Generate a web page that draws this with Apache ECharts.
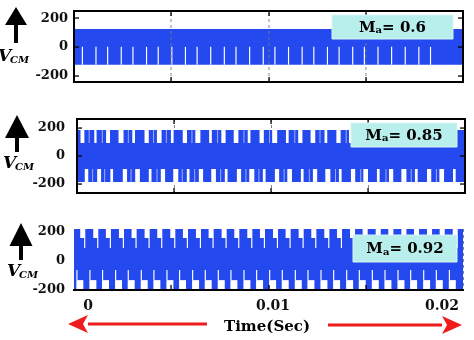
<!DOCTYPE html>
<html>
<head>
<meta charset="utf-8">
<script src="https://cdn.jsdelivr.net/npm/echarts@6/dist/echarts.min.js"></script>
<style>
  html, body { margin: 0; padding: 0; background: #fff; }
  #chart { width: 474px; height: 340px; }
</style>
</head>
<body>
<div id="chart"></div>
<script>
// ---- data ---------------------------------------------------------------
// time axis (s) and labelled ticks
const timeRange = [0, 0.02];
const timeGrid = 0.005;
const timeGridLines = [0.005, 0.01, 0.015];
const timeTicks = [0, 0.01, 0.02];
const timeLabels = ['0', '0.01', '0.02'];
const voltTicks = [-200, 0, 200];
const modIndex = ['0.6', '0.85', '0.92'];

// Ma = 0.6 : switching band and the short zero-level gaps
const range1 = [-245, 250];
const band1 = [-125, 125];
const gapLevels1 = [-125, 0];
const gapWidth1 = 0.00006;
const gaps1 = [0.0004, 0.0011, 0.0017, 0.0024, 0.0030, 0.0037, 0.0043, 0.0050,
  0.0057, 0.0063, 0.0070, 0.0077, 0.0083, 0.0090, 0.0097, 0.0103, 0.0110,
  0.0117, 0.0123, 0.0130, 0.0136, 0.0143, 0.0149, 0.0156, 0.0163, 0.0170,
  0.0177, 0.0183];

// Ma = 0.85 : band with notches down to the inner level
const range2 = [-265, 265];
const band2 = [-186, 186];
const topLevels2 = [93, 186];
const botLevels2 = [-186, -93];
const topNotches2 = [[0.00018,0.00038],[0.00089,0.00101],[0.00150,0.00170],[0.00214,0.00240],
  [0.00285,0.00299],[0.00348,0.00370],[0.00412,0.00436],[0.00484,0.00498],[0.00545,0.00567],
  [0.00610,0.00636],[0.00681,0.00695],[0.00744,0.00766],[0.00808,0.00832],[0.00880,0.00894],
  [0.00941,0.00963],[0.01006,0.01032],[0.01077,0.01091],[0.01140,0.01162],[0.01204,0.01228],
  [0.01276,0.01290],[0.01337,0.01359],[0.01402,0.01428],[0.01473,0.01487],[0.01536,0.01558],
  [0.01600,0.01624],[0.01672,0.01686],[0.01733,0.01755],[0.01798,0.01824],[0.01869,0.01883],
  [0.01932,0.01954]];
const botNotches2 = [[0.00040,0.00058],[0.00104,0.00124],[0.00172,0.00186],[0.00236,0.00258],
  [0.00300,0.00324],[0.00370,0.00384],[0.00432,0.00454],[0.00496,0.00522],[0.00566,0.00580],
  [0.00628,0.00650],[0.00692,0.00716],[0.00762,0.00776],[0.00824,0.00846],[0.00888,0.00914],
  [0.00958,0.00972],[0.01020,0.01042],[0.01084,0.01108],[0.01154,0.01168],[0.01216,0.01238],
  [0.01280,0.01306],[0.01350,0.01364],[0.01412,0.01434],[0.01476,0.01500],[0.01546,0.01560],
  [0.01608,0.01630],[0.01672,0.01698],[0.01742,0.01756],[0.01804,0.01826],[0.01868,0.01892],
  [0.01938,0.01952]];
const sliverWidth2 = 0.00004;
const topSlivers2 = [0.00060, 0.00128, 0.00262, 0.00392, 0.00458, 0.00590, 0.00722, 0.00858,
  0.00990, 0.01120, 0.01250, 0.01385, 0.01520, 0.01650, 0.01782, 0.01912];
const botSlivers2 = [0.00078, 0.00140, 0.00276, 0.00410, 0.00540, 0.00604, 0.00738, 0.00868,
  0.00935, 0.01065, 0.01195, 0.01330, 0.01460, 0.01590, 0.01720, 0.01850];

// Ma = 0.92 : band fills the axes, stepped notches at both rails
const range3 = [-200, 220];
const band3 = [-196, 240];
const topCenters3 = [0.00045, 0.00112, 0.00177, 0.00244, 0.00309, 0.00376, 0.00441, 0.00508,
  0.00573, 0.00640, 0.00705, 0.00772, 0.00837, 0.00904, 0.00969, 0.01036, 0.01101, 0.01168,
  0.01233, 0.01300, 0.01365, 0.01432, 0.01497, 0.01564, 0.01629, 0.01696, 0.01761, 0.01828,
  0.01893, 0.01960];
const botCenters3 = [0.00030, 0.00097, 0.00162, 0.00229, 0.00294, 0.00361, 0.00426, 0.00493,
  0.00558, 0.00625, 0.00690, 0.00757, 0.00822, 0.00889, 0.00954, 0.01021, 0.01086, 0.01153,
  0.01218, 0.01285, 0.01350, 0.01417, 0.01482, 0.01549, 0.01614, 0.01681, 0.01746, 0.01813,
  0.01878, 0.01945];
const topHead3 = { half: 0.00013, levels: [158, 240] };
const topTail3 = { width: 0.00006, levels: [89, 158] };
const botBlock3 = { half: 0.00018, levels: [-196, -132] };
const botSpike3 = { width: 0.00006, levels: [-132, -63] };

// ---- build rectangles [t0, t1, v0, v1, kind] -----------------------------
const BAND = 0, NOTCH = 1, FAINT = 2;
const rectsFromPairs = (pairs, lv, kind) => pairs.map(p => [p[0], p[1], lv[0], lv[1], kind]);
const rectsFromStarts = (starts, w, lv, kind) => starts.map(t => [t, t + w, lv[0], lv[1], kind]);

const panel1 = [[timeRange[0], timeRange[1], band1[0], band1[1], BAND]]
  .concat(rectsFromStarts(gaps1, gapWidth1, gapLevels1, NOTCH));

const panel2 = [[timeRange[0], timeRange[1], band2[0], band2[1], BAND]]
  .concat(rectsFromPairs(topNotches2, topLevels2, NOTCH))
  .concat(rectsFromPairs(botNotches2, botLevels2, NOTCH))
  .concat(rectsFromStarts(topSlivers2, sliverWidth2, topLevels2, FAINT))
  .concat(rectsFromStarts(botSlivers2, sliverWidth2, botLevels2, FAINT));

const panel3 = [[timeRange[0], timeRange[1], band3[0], band3[1], BAND]]
  .concat(topCenters3.map(c => [c - topHead3.half, c + topHead3.half, topHead3.levels[0], topHead3.levels[1], NOTCH]))
  .concat(topCenters3.map(c => [c + topHead3.half - topTail3.width, c + topHead3.half, topTail3.levels[0], topTail3.levels[1], NOTCH]))
  .concat(botCenters3.map(c => [c - botBlock3.half, c + botBlock3.half, botBlock3.levels[0], botBlock3.levels[1], NOTCH]))
  .concat(botCenters3.map(c => [c - botBlock3.half, c - botBlock3.half + botSpike3.width, botSpike3.levels[0], botSpike3.levels[1], NOTCH]));

// ---- styling ------------------------------------------------------------
const BLUE = '#2349ef';
const FILLS = [BLUE, '#ffffff', 'rgba(255,255,255,0.55)'];
const SERIF = 'DejaVu Serif';
const INK = '#000';

function renderRect(params, api) {
  const a = api.coord([api.value(0), api.value(3)]);
  const b = api.coord([api.value(1), api.value(2)]);
  const cs = params.coordSys;
  const w = Math.max(b[0] - a[0], 1);
  const shape = echarts.graphic.clipRectByRect(
    { x: a[0], y: a[1], width: w, height: b[1] - a[1] },
    { x: cs.x, y: cs.y, width: cs.width, height: cs.height });
  if (!shape) return null;
  return { type: 'rect', shape: shape, style: { fill: FILLS[api.value(4)] } };
}

// axes box with inward ticks, drawn as solid bars.
// `full` false keeps only the bottom edge; `dashes` draws the time grid over the band.
function frameRenderer(full, dashes) {
  return function (params, api) {
    const cs = params.coordSys;
    const x0 = Math.round(cs.x), x1 = Math.round(cs.x + cs.width);
    const y0 = Math.round(cs.y), y1 = Math.round(cs.y + cs.height);
    const bar = (x, y, w, h, fill) => ({ type: 'rect',
      shape: { x: x, y: y, width: w, height: h }, style: { fill: fill || INK } });
    const kids = [];
    timeGridLines.forEach(t => {
      const px = Math.round(api.coord([t, 0])[0]);
      if (dashes) {
        for (let y = y0 + 2; y < y1 - 2; y += 6) {
          kids.push(bar(px - 0.5, y, 1, 3, 'rgba(120,120,120,0.9)'));
        }
      }
      kids.push(bar(px - 0.6, y1 - 5, 1.3, 4));
      if (full) kids.push(bar(px - 0.6, y0 + 1, 1.3, 4));
    });
    kids.push(bar(x0 - 1, y1 - 1, x1 - x0 + 2, 2));
    if (full) {
      kids.push(bar(x0 - 1, y0 - 1, x1 - x0 + 2, 2),
                bar(x0 - 1, y0 - 1, 2, y1 - y0 + 2),
                bar(x1 - 1, y0 - 1, 2, y1 - y0 + 2));
      voltTicks.forEach(v => {
        const py = Math.round(api.coord([0, v])[1]);
        kids.push(bar(x0 + 1, py - 0.6, 4, 1.3), bar(x1 - 5, py - 0.6, 4, 1.3));
      });
    }
    return { type: 'group', children: kids };
  };
}

const grids = [
  { left: 74, top: 11, width: 389, height: 71 },
  { left: 77, top: 119, width: 388, height: 74 },
  { left: 74, top: 229, width: 389, height: 61 }
];

const labelFont = (size) => ({ fontFamily: SERIF, fontWeight: 'bold', fontSize: size, color: '#111' });

// time axis: dashed vertical grid under the band and (last panel) the time labels
function timeAxis(gi, withLabels, withSplit) {
  return {
    type: 'value', gridIndex: gi, position: 'bottom',
    min: timeRange[0], max: timeRange[1], interval: timeGrid,
    axisLine: { show: false }, axisTick: { show: false },
    splitLine: { show: withSplit, lineStyle: { color: 'rgba(110,110,110,0.85)', type: [3, 3], width: 1 } },
    axisLabel: withLabels ? Object.assign(labelFont(14), {
      show: true, customValues: timeTicks, margin: 9,
      formatter: v => {
        const i = timeTicks.findIndex(t => Math.abs(t - v) < 1e-9);
        return i < 0 ? '' : '{t' + i + '|' + timeLabels[i] + '}';
      },
      rich: {
        t0: Object.assign(labelFont(14), { padding: [0, 0, 0, 28] }),
        t1: Object.assign(labelFont(14), { padding: [0, 0, 0, 9] }),
        t2: Object.assign(labelFont(14), { padding: [0, 42, 0, 0] })
      }
    }) : { show: false }
  };
}
function voltAxis(gi, range, margin) {
  return {
    type: 'value', gridIndex: gi, position: 'left', min: range[0], max: range[1],
    axisLine: { show: false }, axisTick: { show: false }, splitLine: { show: false },
    axisLabel: Object.assign(labelFont(13), { show: true, customValues: voltTicks, margin: margin })
  };
}

const ranges = [range1, range2, range3];
const margins = [6, 12, 9];
const xAxes = [0, 1, 2].map(i => timeAxis(i, i === 2, i > 0));
const yAxes = [0, 1, 2].map(i => voltAxis(i, ranges[i], margins[i]));

const series = [panel1, panel2, panel3].map((data, i) => ({
  type: 'custom', xAxisIndex: i, yAxisIndex: i,
  renderItem: renderRect, data: data, clip: true,
  encode: { x: [0, 1], y: [2, 3] }, animation: false, silent: true
})).concat([0, 1, 2].map(i => ({
  type: 'custom', xAxisIndex: i, yAxisIndex: i, z: 8,
  renderItem: frameRenderer(i < 2, i === 0), data: [[0.01, 0]], clip: false,
  encode: { x: 0, y: 1 }, animation: false, silent: true
})));

// ---- annotations ----------------------------------------------------------
function upArrow(cx, tipY, baseY, endY, hw) {
  const sw = 2;
  return { type: 'polygon', silent: true, z: 10,
    shape: { points: [[cx, tipY], [cx + hw, baseY], [cx + sw, baseY], [cx + sw, endY],
                      [cx - sw, endY], [cx - sw, baseY], [cx - hw, baseY]] },
    style: { fill: '#000' } };
}
function vcm(x, y) {
  return [
    { type: 'text', x: x, y: y, z: 10, silent: true,
      style: { text: 'V', fontFamily: SERIF, fontStyle: 'italic', fontWeight: 'bold', fontSize: 17,
               fill: '#000', verticalAlign: 'middle', align: 'left' } },
    { type: 'text', x: x + 12, y: y + 3, z: 10, silent: true,
      style: { text: 'CM', fontFamily: SERIF, fontStyle: 'italic', fontWeight: 'bold', fontSize: 10,
               fill: '#000', verticalAlign: 'middle', align: 'left' } }
  ];
}
function maBox(x, y, w, h, value) {
  return [
    { type: 'rect', z: 10, silent: true, shape: { x: x, y: y, width: w, height: h },
      style: { fill: '#b8eeec', stroke: '#d8f4f2', lineWidth: 1 } },
    { type: 'text', z: 11, silent: true, x: x + w / 2, y: y + h / 2,
      style: { text: '{m|M}{a|a}{m|= ' + value + '}', align: 'center', verticalAlign: 'middle',
        rich: {
          m: { fontFamily: SERIF, fontWeight: 'bold', fontSize: 15, fill: '#000', verticalAlign: 'bottom', lineHeight: 17 },
          a: { fontFamily: SERIF, fontWeight: 'bold', fontSize: 10, fill: '#000', verticalAlign: 'bottom', lineHeight: 9 }
        } } }
  ];
}
function redArrow(tailX, tipX, y) {
  const dir = tipX > tailX ? 1 : -1;
  const baseX = tipX - dir * 20;
  return [
    { type: 'rect', z: 10, silent: true,
      shape: { x: Math.min(tailX, baseX), y: y - 1.5, width: Math.abs(baseX - tailX), height: 3 },
      style: { fill: '#ee1c1c' } },
    { type: 'polygon', z: 10, silent: true,
      shape: { points: [[tipX, y], [baseX, y - 9], [baseX + dir * 5, y], [baseX, y + 9]] },
      style: { fill: '#ee1c1c' } }
  ];
}

const graphics = [].concat(
  upArrow(16, 7, 25, 43, 11), vcm(-2, 57),
  upArrow(17, 115, 138, 152, 12), vcm(3, 164),
  upArrow(21, 223, 246, 260, 11.5), vcm(7, 272),
  maBox(332, 15, 121, 24, modIndex[0]),
  maBox(351, 123, 106, 24, modIndex[1]),
  maBox(353, 235, 104, 27, modIndex[2]),
  redArrow(207, 68, 324),
  redArrow(328, 462, 325),
  [{ type: 'text', z: 10, silent: true, x: 267, y: 327,
     style: { text: 'Time(Sec)', fontFamily: SERIF, fontWeight: 'bold', fontSize: 15, fill: '#000',
              align: 'center', verticalAlign: 'middle' } }]
);

const chart = echarts.init(document.getElementById('chart'), null, { renderer: 'canvas' });
chart.setOption({
  animation: false,
  backgroundColor: '#fff',
  grid: grids,
  xAxis: xAxes,
  yAxis: yAxes,
  series: series,
  graphic: graphics
});
</script>
</body>
</html>
